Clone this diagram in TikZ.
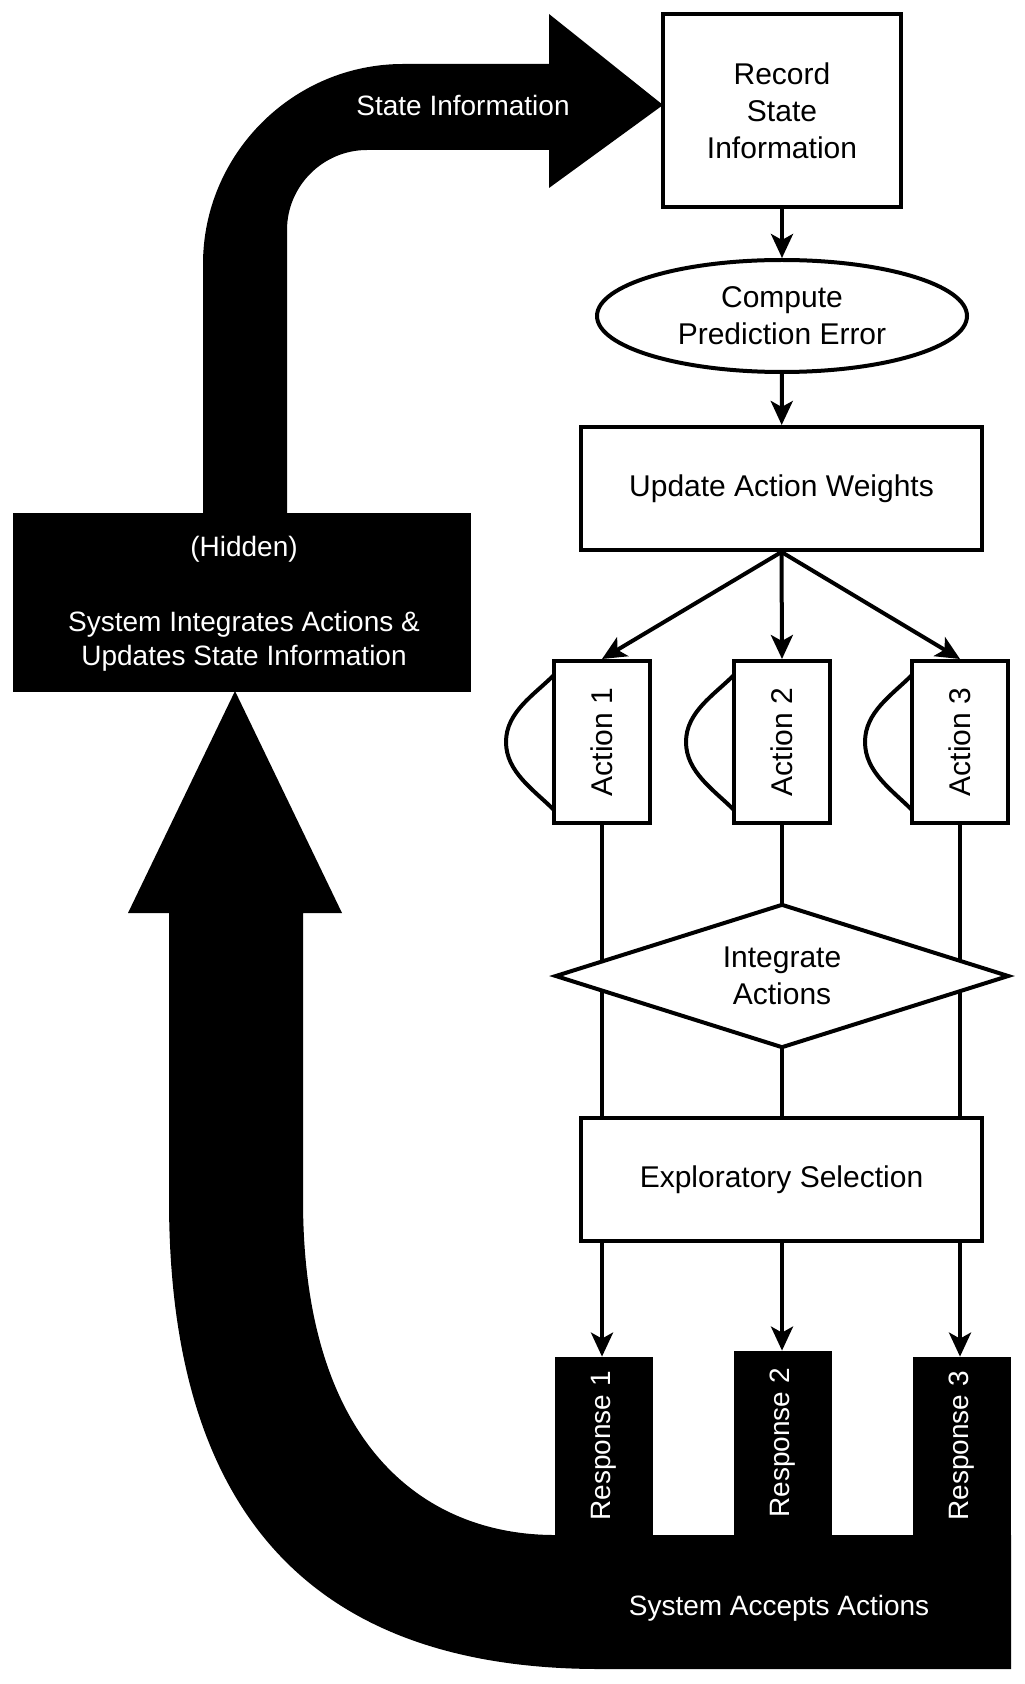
\documentclass[tikz,border=0pt]{standalone}
\usepackage{fontspec}
\setmainfont{Liberation Sans}
\usetikzlibrary{shapes.geometric,arrows.meta}
\begin{document}
\begin{tikzpicture}[x=0.5pt,y=-0.5pt,
  box/.style={draw,line width=2pt,fill=white,font=\fontsize{15}{18.5}\selectfont,align=center,inner sep=0pt},
  act/.style={box,minimum width=48pt,minimum height=81pt},
  resp/.style={fill=black,text=white,minimum width=49pt,font=\fontsize{14}{17}\selectfont,inner sep=0pt},
  wtxt/.style={text=white,font=\fontsize{14}{17}\selectfont,align=center},
  arr/.style={line width=2pt,-{Stealth[length=12pt,width=11pt,inset=3pt]}},
  ln/.style={line width=2pt}]
\useasboundingbox (0,0) rectangle (1024,1684);
% top band with arrow
\fill[black] (203,513) -- (203,264) .. controls (203,154) and (293,64) .. (403,64) -- (549,64) -- (549,14) -- (663,105) -- (549,188) -- (549,150) -- (367,150) .. controls (323,150) and (287,186) .. (287,230) -- (287,513) -- cycle;
% bottom band with arrow
\fill[black] (303,913) -- (303,1200) .. controls (303,1440) and (420,1535) .. (555,1535) -- (1011,1535) -- (1011,1669) -- (600,1669) .. controls (300,1669) and (169,1500) .. (169,1200) -- (169,913) -- (128,913) -- (235,691) -- (342,913) -- cycle;
\node[wtxt] (si) at (463,105) {State Information};
\node[fill=black,minimum width=229pt,minimum height=89.5pt,inner sep=0pt] (hid) at (242,602.5) {};
\node[wtxt] (hl) at (244,549) {(Hidden)};
\node[wtxt] (hs) at (244,641) {System Integrates Actions \&\\Updates State Information};
\node[wtxt] (sa) at (779,1608) {System Accepts Actions};
% flow
\node[box,minimum width=119pt,minimum height=96.5pt] (rec) at (782,110.5) {Record\\State\\Information};
\node[box,ellipse,minimum width=185pt,minimum height=56pt] (pe) at (782,316) {Compute\\Prediction Error};
\node[box,minimum width=200.5pt,minimum height=61.5pt] (up) at (781.5,488.5) {Update Action Weights};
\node[act] (a1) at (602,742) {\rotatebox{90}{Action 1}};
\node[act] (a2) at (782,742) {\rotatebox{90}{Action 2}};
\node[act] (a3) at (960,742) {\rotatebox{90}{Action 3}};
\foreach \x/\b in {554/506,734/686,912/865}{
  \draw[ln] (\x,675) .. controls (\x-20,695) and (\b,712) .. (\b,742) .. controls (\b,772) and (\x-20,790) .. (\x,810);
}
\draw[arr] (rec) -- (pe);
\draw[arr] (pe) -- (up);
\draw[arr] (up.south) -- (a1.north);
\draw[arr] (up.south) -- (a2.north);
\draw[arr] (up.south) -- (a3.north);
\node[box,minimum width=200.5pt,minimum height=61.5pt] (ex) at (781.5,1179.5) {Exploratory Selection};
\draw[ln] (a1.south) -- (a1.south |- ex.north);
\draw[ln] (a2.south) -- (a2.south |- ex.north);
\draw[ln] (a3.south) -- (a3.south |- ex.north);
\node[box,diamond,aspect=3.15,minimum width=227pt,minimum height=72pt] (int) at (782,976) {Integrate\\Actions};
\node[resp,minimum height=89pt] (r1) at (604,1446) {\rotatebox{90}{Response 1}};
\node[resp,minimum height=92pt] (r2) at (783,1443) {\rotatebox{90}{Response 2}};
\node[resp,minimum height=89pt] (r3) at (962,1446) {\rotatebox{90}{Response 3}};
\draw[arr] (a1.south |- ex.south) -- (a1.south |- r1.north);
\draw[arr] (a2.south |- ex.south) -- (a2.south |- r2.north);
\draw[arr] (a3.south |- ex.south) -- (a3.south |- r3.north);
\end{tikzpicture}
\end{document}
